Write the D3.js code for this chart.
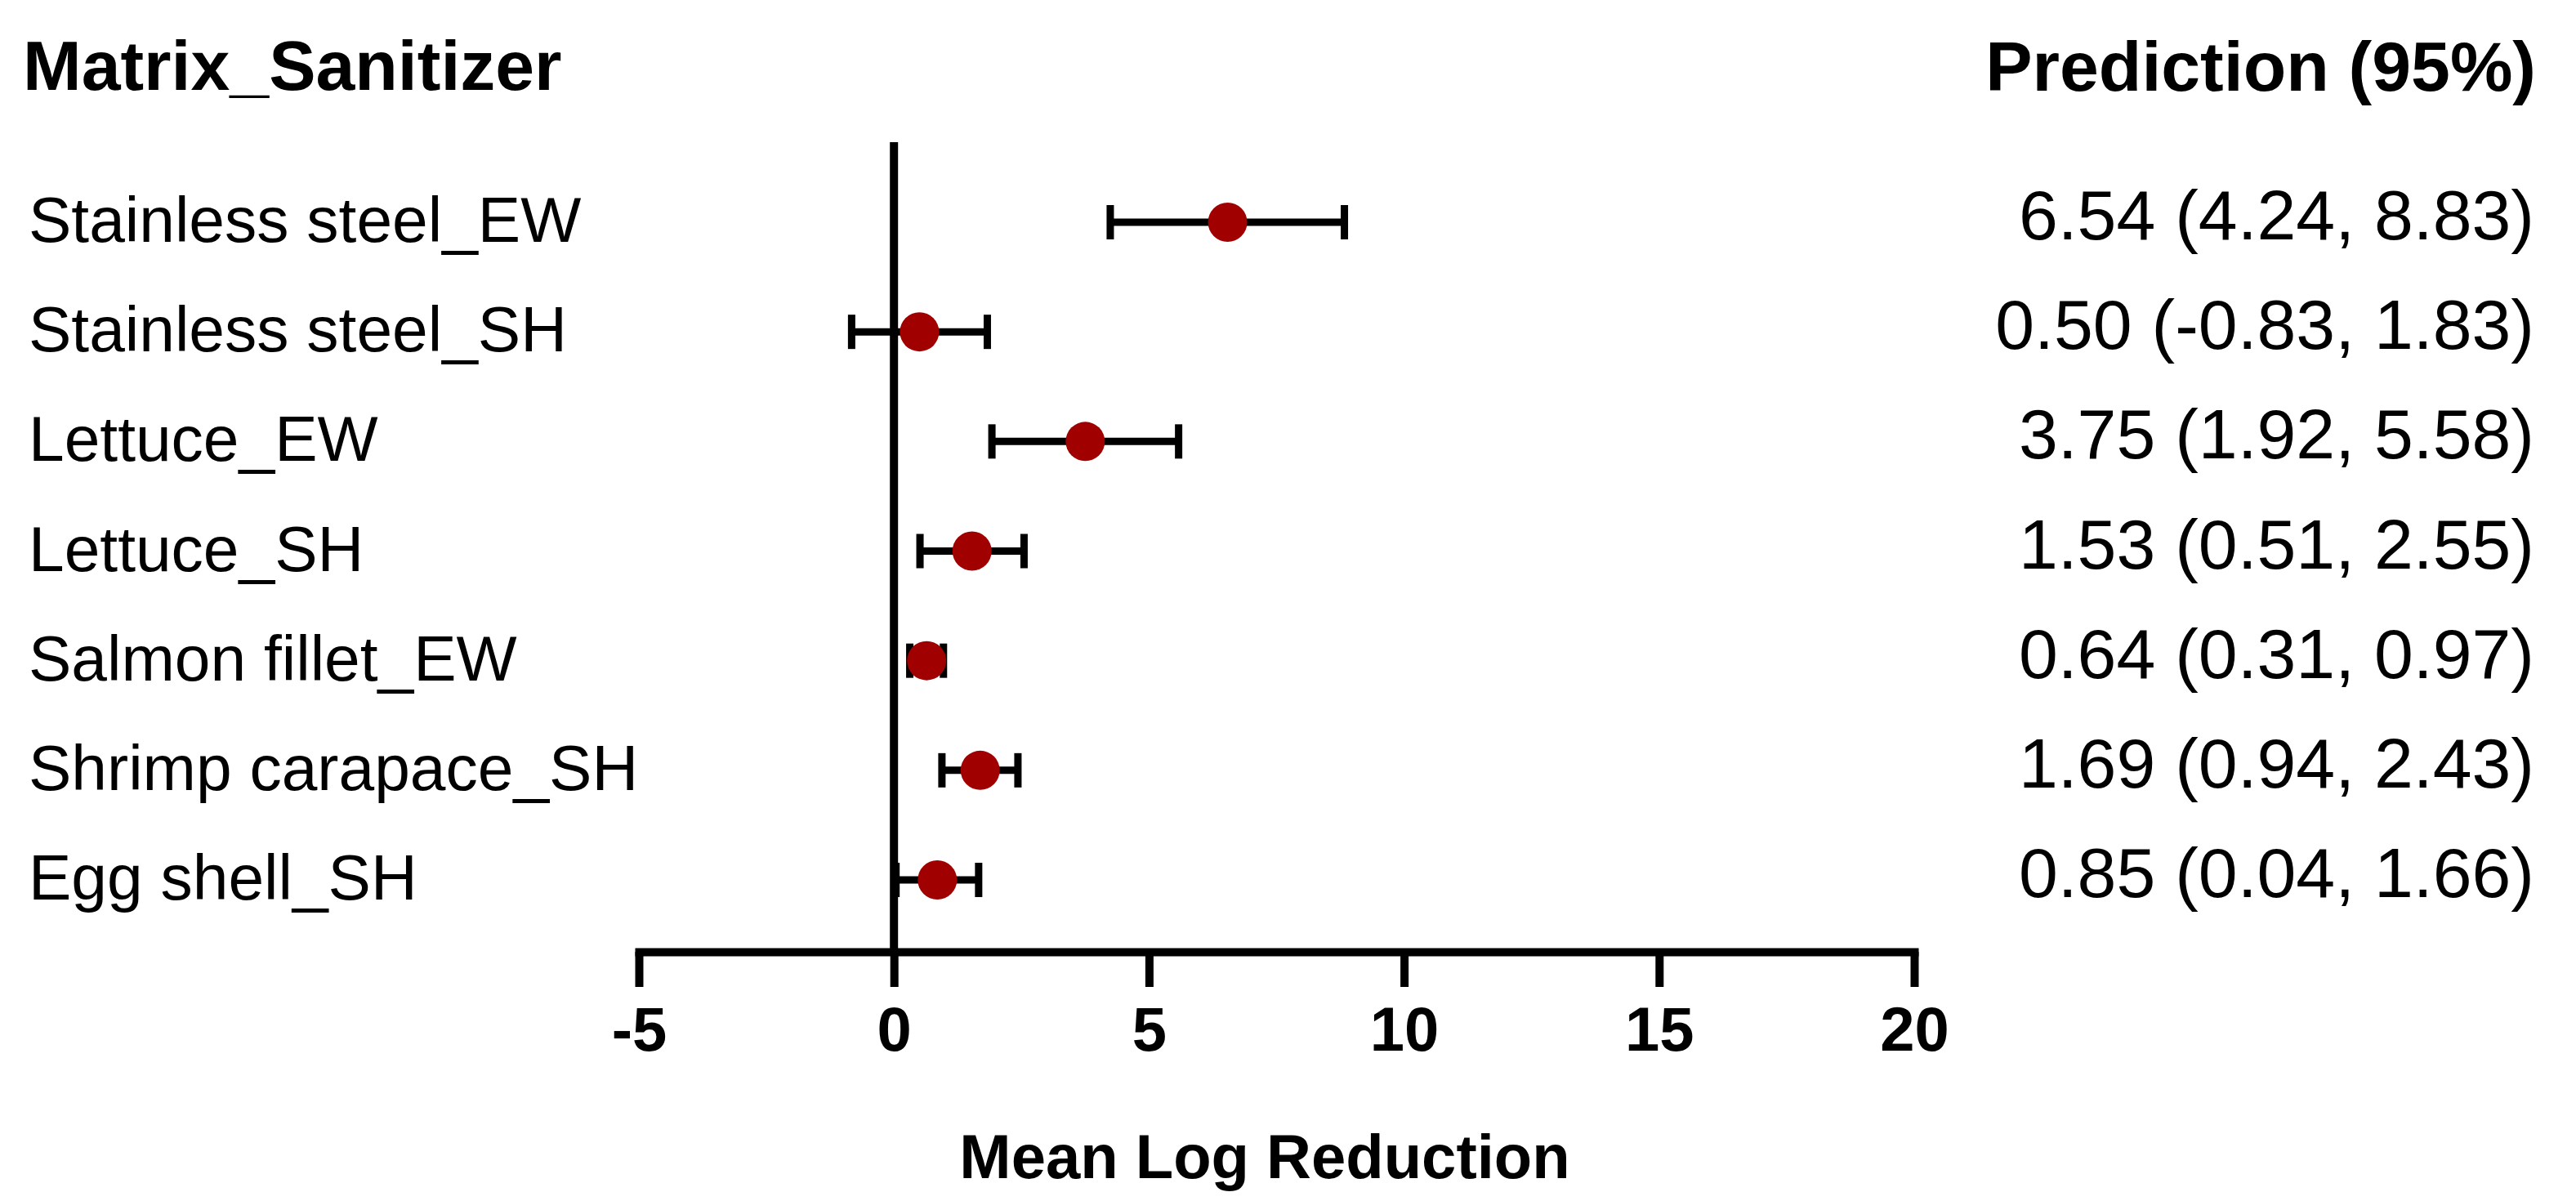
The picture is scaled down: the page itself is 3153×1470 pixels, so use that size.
<!DOCTYPE html>
<html>
<head>
<meta charset="utf-8">
<script src="https://cdn.jsdelivr.net/npm/d3@7"></script>
<style>
  html, body { margin: 0; padding: 0; background: #fff; }
  svg { display: block; font-family: "Liberation Sans", Arial, sans-serif; }
</style>
</head>
<body>
<svg width="3153" height="1470"></svg>
<script>
const categories = ['Stainless steel_EW', 'Stainless steel_SH', 'Lettuce_EW', 'Lettuce_SH',
  'Salmon fillet_EW', 'Shrimp carapace_SH', 'Egg shell_SH'];
const means = [6.54, 0.50, 3.75, 1.53, 0.64, 1.69, 0.85];
const lower = [4.24, -0.83, 1.92, 0.51, 0.31, 0.94, 0.04];
const upper = [8.83, 1.83, 5.58, 2.55, 0.97, 2.43, 1.66];
const xTicks = [-5, 0, 5, 10, 15, 20];

const rows = categories.map((c, i) => ({ name: c, mean: means[i], lo: lower[i], hi: upper[i] }));

// x runs from -5 to 20, rows spaced evenly top to bottom
const xScale = d3.scaleLinear().domain([-5, 20]).range([782, 2343]);
const yScale = d3.scalePoint().domain(categories).range([272, 1077]);
const axisY = 1165;

const svg = d3.select('svg');

// headers
svg.append('text').attr('x', 28).attr('y', 110)
  .attr('font-size', 86).attr('font-weight', 'bold').text('Matrix_Sanitizer');
svg.append('text').attr('x', 3104).attr('y', 111).attr('text-anchor', 'end')
  .attr('font-size', 86).attr('font-weight', 'bold').text('Prediction (95%)');

// row labels left, prediction text right
svg.selectAll('.lab').data(rows).enter().append('text')
  .attr('class', 'lab')
  .attr('x', 35).attr('y', d => yScale(d.name) + 24)
  .attr('font-size', 78.5).text(d => d.name);

svg.selectAll('.val').data(rows).enter().append('text')
  .attr('class', 'val')
  .attr('x', 3102).attr('y', d => yScale(d.name) + 21)
  .attr('text-anchor', 'end').attr('font-size', 86)
  .text(d => `${d.mean.toFixed(2)} (${d.lo.toFixed(2)}, ${d.hi.toFixed(2)})`);

// zero line
svg.append('line')
  .attr('x1', xScale(0)).attr('x2', xScale(0))
  .attr('y1', 174).attr('y2', axisY)
  .attr('stroke', '#000').attr('stroke-width', 10);

// x axis
const gx = svg.append('g').attr('transform', `translate(0,${axisY})`)
  .call(d3.axisBottom(xScale).tickValues(xTicks).tickFormat(d => String(d))
    .tickSize(43).tickSizeOuter(0).tickPadding(24));
gx.select('.domain').attr('stroke-width', 10).attr('stroke-linecap', 'square');
gx.selectAll('.tick line').attr('stroke-width', 10);
gx.selectAll('.tick text').attr('font-size', 76).attr('font-weight', 'bold')
  .attr('font-family', '"Liberation Sans", Arial, sans-serif').attr('fill', '#000');

svg.append('text').attr('x', 1548).attr('y', 1442)
  .attr('text-anchor', 'middle').attr('font-size', 76).attr('font-weight', 'bold')
  .text('Mean Log Reduction');

// error bars
const bars = svg.selectAll('.bar').data(rows).enter().append('g').attr('class', 'bar');
bars.append('line')
  .attr('x1', d => xScale(d.lo)).attr('x2', d => xScale(d.hi))
  .attr('y1', d => yScale(d.name)).attr('y2', d => yScale(d.name))
  .attr('stroke', '#000').attr('stroke-width', 9);
bars.append('line')
  .attr('x1', d => xScale(d.lo)).attr('x2', d => xScale(d.lo))
  .attr('y1', d => yScale(d.name) - 21).attr('y2', d => yScale(d.name) + 21)
  .attr('stroke', '#000').attr('stroke-width', 9);
bars.append('line')
  .attr('x1', d => xScale(d.hi)).attr('x2', d => xScale(d.hi))
  .attr('y1', d => yScale(d.name) - 21).attr('y2', d => yScale(d.name) + 21)
  .attr('stroke', '#000').attr('stroke-width', 9);

// points
svg.selectAll('.pt').data(rows).enter().append('circle')
  .attr('class', 'pt')
  .attr('cx', d => xScale(d.mean)).attr('cy', d => yScale(d.name))
  .attr('r', 24).attr('fill', '#a00000');
</script>
</body>
</html>
